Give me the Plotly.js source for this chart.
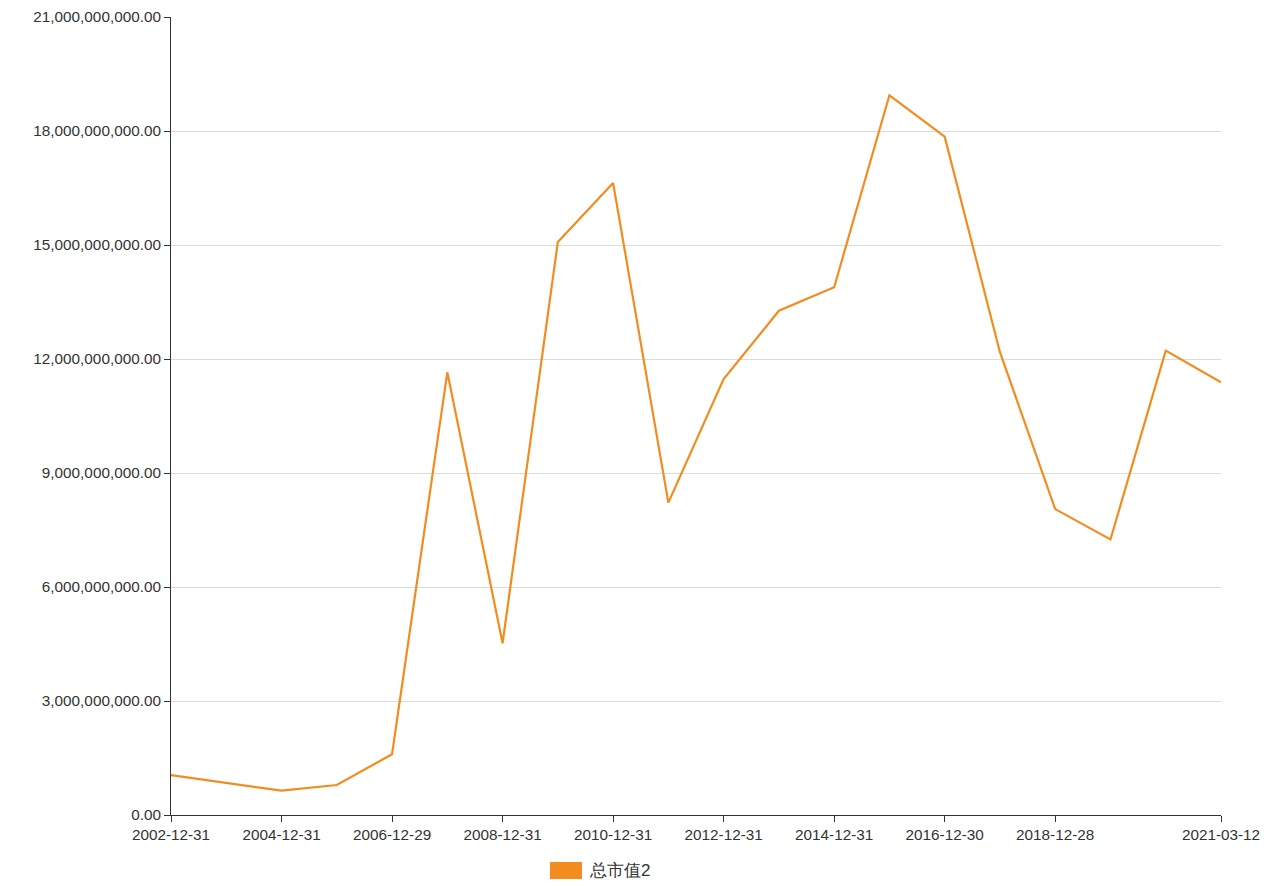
<!DOCTYPE html>
<html>
<head>
<meta charset="utf-8">
<script src="https://cdn.plot.ly/plotly-3.0.1.min.js"></script>
<style>html,body{margin:0;padding:0;background:#fff;}#chart{width:1268px;height:886px;}</style>
</head>
<body>
<div id="chart"></div>
<script>
const dates = ["2002-12-31","2003-12-31","2004-12-31","2005-12-30","2006-12-29","2007-12-28","2008-12-31","2009-12-31","2010-12-31","2011-12-30","2012-12-31","2013-12-31","2014-12-31","2015-12-31","2016-12-30","2017-12-29","2018-12-28","2019-12-31","2020-12-31","2021-03-12"];
const marketCap = [1.05e9,0.84e9,0.64e9,0.79e9,1.6e9,11.65e9,4.52e9,15.08e9,16.63e9,8.22e9,11.47e9,13.27e9,13.89e9,18.94e9,17.85e9,12.18e9,8.05e9,7.25e9,12.22e9,11.39e9];
const seriesName = "总市值2";
const yTicks = [0,3e9,6e9,9e9,12e9,15e9,18e9,21e9];
const xTickIdx = [0,2,4,6,8,10,12,14,16,19];

const color = "#f28c1e";
const font = "Liberation Sans, Arial, sans-serif";

const trace = {
  x: dates, y: marketCap, type: "scatter", mode: "lines",
  name: seriesName, showlegend: false,
  line: {color: color, width: 2.2}
};

const layout = {
  width: 1268, height: 886,
  margin: {l: 171, r: 47, t: 17, b: 71},
  paper_bgcolor: "#fff", plot_bgcolor: "#fff",
  font: {family: font, size: 15, color: "#333"},
  xaxis: {
    type: "category", range: [0, dates.length - 1],
    tickvals: xTickIdx.map(i => dates[i]), ticktext: xTickIdx.map(i => dates[i]),
    showgrid: false, showline: true, linecolor: "#333", linewidth: 1,
    ticks: "outside", ticklen: 6, tickcolor: "#333",
    tickfont: {family: font, size: 15.3, color: "#333"}, zeroline: false
  },
  yaxis: {
    range: [0, 21e9], tickvals: yTicks,
    ticktext: yTicks.map(v => v.toLocaleString("en-US", {minimumFractionDigits: 2, maximumFractionDigits: 2})),
    showgrid: true, gridcolor: "#dcdcdc", gridwidth: 1,
    showline: true, linecolor: "#333", linewidth: 1,
    ticks: "outside", ticklen: 6, tickcolor: "#333",
    tickfont: {family: font, size: 15.3, color: "#333"}, zeroline: false
  },
  shapes: [{
    type: "rect", xref: "paper", yref: "paper",
    x0: (550 - 171) / 1050, x1: (582 - 171) / 1050,
    y0: -(862 - 815) / 798, y1: -(879 - 815) / 798,
    fillcolor: color, line: {width: 0}
  }],
  annotations: [{
    xref: "paper", yref: "paper", x: (587 - 171) / 1050, y: -(870 - 815) / 798,
    xanchor: "left", yanchor: "middle", showarrow: false,
    text: seriesName, font: {family: font, size: 17, color: "#333"}
  }]
};

Plotly.newPlot("chart", [trace], layout, {displayModeBar: false, staticPlot: true});
</script>
</body>
</html>
